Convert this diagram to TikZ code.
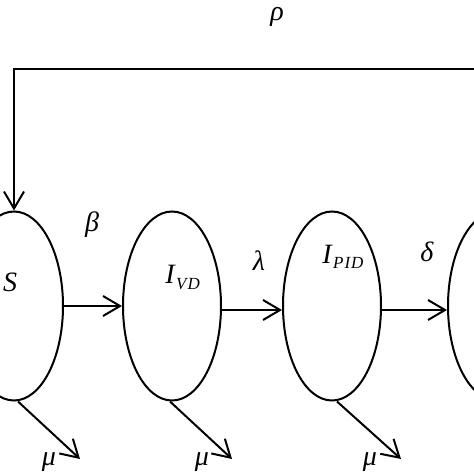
\documentclass[tikz,border=0pt]{standalone}
\usepackage{fontspec}
\setmainfont{Liberation Serif}
\usetikzlibrary{shapes.geometric,arrows.meta}
\tikzset{
  comp/.style={draw,line width=2pt,ellipse,minimum width=98pt,minimum height=189pt,inner sep=0pt},
  flow/.style={line width=2pt,-{Straight Barb[length=17pt,width=20pt,line width=2pt]}},
  lab/.style={font=\fontsize{28}{28}\selectfont\itshape,inner sep=0pt},
  sub/.style={font=\fontsize{17}{17}\selectfont\itshape,inner sep=0pt}
}
\begin{document}
\begin{tikzpicture}[x=1pt,y=-1pt]
\useasboundingbox (0,0) rectangle (474,474);
\clip (0,0) rectangle (474,474);
\fill[white] (0,0) rectangle (474,474);
% compartments
\node[comp] (S) at (14,306) {};
\node[comp] (Ivd) at (172,306) {};
\node[comp] (Ipid) at (332,306) {};
\node[comp] (R) at (497,306) {};
% labels inside
\node[lab] (Slab) at (10,282) {S};
\node[lab] (Ivdlab) at (170,274) {I};
\node[sub,anchor=west] (Ivdsub) at (176,284) {V\kern1ptD};
\node[lab] (Ipidlab) at (327,254) {I};
\node[sub,anchor=west] (Ipidsub) at (333,263) {P\kern1ptI\kern1ptD};
% transitions
\draw[flow] (S.east) -- (Ivd.west);
\draw[flow] ([yshift=-4pt]Ivd.east) -- ([yshift=-4pt]Ipid.west);
\draw[flow] ([yshift=-4pt]Ipid.east) -- ([yshift=-4pt]R.west);
\node[lab] (beta) at (92,225) {β};
\node[lab] (lambda) at (259,261) {λ};
\node[lab] (delta) at (427,252) {δ};
% feedback
\coordinate (fbR) at (490,69);
\draw[flow] (fbR) -- (S.north |- fbR) -- (S.north);
\node[lab] (rho) at (277,17) {ρ};
% deaths
\coordinate (dS) at (80,459);
\coordinate (dV) at (232,459);
\coordinate (dP) at (401,459);
\draw[flow] ([xshift=4pt]S.south) -- (dS);
\draw[flow] ([xshift=-2pt]Ivd.south) -- (dV);
\draw[flow] ([xshift=5pt]Ipid.south) -- (dP);
\node[lab] (muS) at (49,462) {μ};
\node[lab] (muV) at (202,462) {μ};
\node[lab] (muP) at (370,462) {μ};
\end{tikzpicture}
\end{document}
